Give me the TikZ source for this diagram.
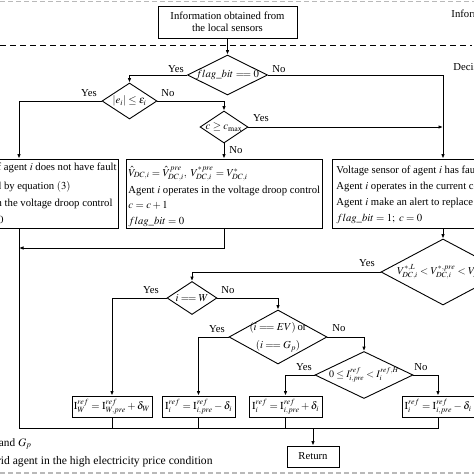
\documentclass[tikz,border=0pt]{standalone}
\usepackage{mathptmx}
\usepackage{fontspec}
\setmainfont{Liberation Serif}
\usetikzlibrary{arrows.meta,shapes.geometric}
\begin{document}
\begin{tikzpicture}[x=1pt,y=-1pt,line width=0.9pt,
  arr/.style={-{Latex[length=4.5pt,width=3.6pt]}},
  box/.style={draw,rectangle,inner sep=0pt},
  dia/.style={draw,diamond,inner sep=0pt},
  txt/.style={inner sep=0pt,font=\fontsize{10.7}{13}\selectfont},
  lbl/.style={inner sep=0pt,font=\fontsize{10.7}{13}\selectfont},
  graydash/.style={draw=gray!55,line width=1.6pt,dash pattern=on 5pt off 3pt},
  blackdash/.style={draw=black,line width=1pt,dash pattern=on 6pt off 4pt}]
\useasboundingbox (0,0) rectangle (474,474);
\clip (0,0) rectangle (474,474);
\fill[white] (0,0) rectangle (474,474);

% layer separators
\draw[graydash] (0,1.5) -- (474,1.5);
\draw[graydash] (0,473) -- (474,473);
\draw[blackdash] (0,45) -- (472,45);
\node[txt,anchor=west] (tinf) at (451,15) {Information layer};
\node[txt,anchor=west] (tdec) at (453,68) {Decision layer};

% boxes
\node[box,minimum width=139pt,minimum height=32pt,align=center,font=\fontsize{10.7}{12.5}\selectfont] (bInfo) at (227.5,22) {Information obtained from\\the local sensors};
\node[box,minimum width=198pt,minimum height=69pt] (bLeft) at (19,193.5) {};
\node[box,minimum width=196pt,minimum height=69pt] (bMid) at (224,193.5) {};
\node[box,minimum width=222pt,minimum height=69pt] (bRight) at (443,193.5) {};
\node[box,minimum width=80pt,minimum height=21pt,txt] (bW) at (112,406.5) {$\mathrm{I}^{ref}_{W}=\mathrm{I}^{ref}_{W,pre}+\delta_W$};
\node[box,minimum width=73pt,minimum height=21pt,txt] (bI1) at (198.5,406.5) {$\mathrm{I}^{ref}_{i}=\mathrm{I}^{ref}_{i,pre}-\delta_i$};
\node[box,minimum width=73pt,minimum height=21pt,txt] (bI2) at (285.5,406.5) {$\mathrm{I}^{ref}_{i}=\mathrm{I}^{ref}_{i,pre}+\delta_i$};
\node[box,minimum width=72pt,minimum height=21pt,txt] (bI3) at (438,406.5) {$\mathrm{I}^{ref}_{i}=\mathrm{I}^{ref}_{i,pre}-\delta_i$};
\node[box,minimum width=52pt,minimum height=21pt,txt] (bRet) at (313,456.5) {Return};

% box texts
\node[txt,anchor=base east] (l1) at (117,170.5) {If agent $i$ does not have fault};
\node[txt,anchor=base east] (l2) at (71,189.5) {calculated by equation $(3)$};
\node[txt,anchor=base east] (l3) at (113,206.5) {operates in the voltage droop control};
\node[txt,anchor=base east] (l4) at (4,223.5) {$flag\_bit=0$};

\node[txt,anchor=base west] (m1) at (128,176) {$\hat{V}_{DC,i}=\hat{V}^{pre}_{DC,i},\ V^{*pre}_{DC,i}=V^{*}_{DC,i}$};
\node[txt,anchor=base west] (m2) at (128,193) {Agent $i$ operates in the voltage droop control};
\node[txt,anchor=base west] (m3) at (128,208.5) {$c=c+1$};
\node[txt,anchor=base west] (m4) at (128,224.5) {$flag\_bit=0$};

\node[txt,anchor=base west] (r1) at (336,173.5) {Voltage sensor of agent $i$ has fault};
\node[txt,anchor=base west] (r2) at (336,189.5) {Agent $i$ operates in the current control};
\node[txt,anchor=base west] (r3) at (336,205.5) {Agent $i$ make an alert to replace the sensor};
\node[txt,anchor=base west] (r4) at (336,221.5) {$flag\_bit=1;\ c=0$};

% diamonds
\node[dia,minimum width=80pt,minimum height=40pt] (dFlag) at (227.5,75) {};
\node[txt] at (dFlag) {$flag\_bit=\!=0$};
\node[dia,minimum width=55pt,minimum height=36pt] (dE) at (129.5,101) {};
\node[txt] at (dE) {$|e_i|\le\varepsilon_i$};
\node[dia,minimum width=48pt,minimum height=32pt] (dC) at (224,127) {};
\node[txt] at (dC) {$c\ge c_{\max}$};
\node[dia,minimum width=124pt,minimum height=66pt] (dV) at (443,272) {};
\node[txt,font=\fontsize{10.5}{13}\selectfont] at (dV) {$V^{*,L}_{DC,i}<V^{*,pre}_{DC,i}<V^{*,H}_{DC,i}$};
\node[dia,minimum width=50pt,minimum height=33pt] (dW) at (192,298) {};
\node[txt] at (dW) {$i=\!=W$};
\node[dia,minimum width=98pt,minimum height=54pt] (dEV) at (278,337) {};
\node[txt,align=center,font=\fontsize{10.7}{18}\selectfont] at (dEV) {$(i=\!=EV)$\,or\\$(i=\!=G_p)$};
\node[dia,minimum width=98pt,minimum height=47pt] (dI) at (364,375) {};
\node[txt,font=\fontsize{10}{12}\selectfont] at (dI) {$0\le I^{ref}_{i,pre}<I^{ref,H}_{i}$};

% connectors
\draw[arr] (bInfo.south) -- (dFlag.north);
\draw[arr] (dFlag.west) -| (dE.north);
\draw[arr] (dFlag.east) -| (bRight.north);
\draw[arr] (dE.west) -| (bLeft.north);
\draw[arr] (dE.east) -| (dC.north);
\coordinate (j1) at (bRight.north |- dC.east);
\draw[arr] (dC.east) -- (j1);
\draw[arr] (dC.south) -- (bMid.north);
\coordinate (j2) at (19,248);
\draw[arr] (bMid.south) |- (j2);
\coordinate (j3) at (438,428);
\draw (bLeft.south) |- (j3) -- (bI3.south);
\draw (bW.south) -- (bW.south |- j3);
\draw (bI1.south) -- (bI1.south |- j3);
\draw (bI2.south) -- (bI2.south |- j3);
\draw[arr] (bRet.north |- j3) -- (bRet.north);
\draw[arr] (bRight.south) -- (dV.north);
\draw[arr] (dV.west) -| (dW.north);
\draw[arr] (dW.west) -| (bW.north);
\draw[arr] (dW.east) -| (dEV.north);
\draw[arr] (dEV.west) -| (bI1.north);
\draw[arr] (dEV.east) -| (dI.north);
\draw[arr] (dI.west) -| (bI2.north);
\draw[arr] (dI.east) -| (bI3.north);

% labels
\node[lbl] (y1) at (176,69) {Yes};
\node[lbl] (n1) at (279,69) {No};
\node[lbl] (y2) at (89,93) {Yes};
\node[lbl] (n2) at (168,93) {No};
\node[lbl] (y3) at (261,118) {Yes};
\node[lbl] (n3) at (236,150) {No};
\node[lbl] (y4) at (367,263) {Yes};
\node[lbl] (y5) at (151,290) {Yes};
\node[lbl] (n5) at (228,290) {No};
\node[lbl] (y6) at (217,329) {Yes};
\node[lbl] (n6) at (339,328) {No};
\node[lbl] (y7) at (304,367) {Yes};
\node[lbl] (n7) at (421,367) {No};

% bottom notes
\node[txt,anchor=base east,font=\fontsize{11.3}{13}\selectfont] (note1) at (32,446) {EV and $G_p$};
\node[txt,anchor=base east,font=\fontsize{11.6}{13}\selectfont] (note2) at (213,464) {grid agent in the high electricity price condition};
\end{tikzpicture}
\end{document}
